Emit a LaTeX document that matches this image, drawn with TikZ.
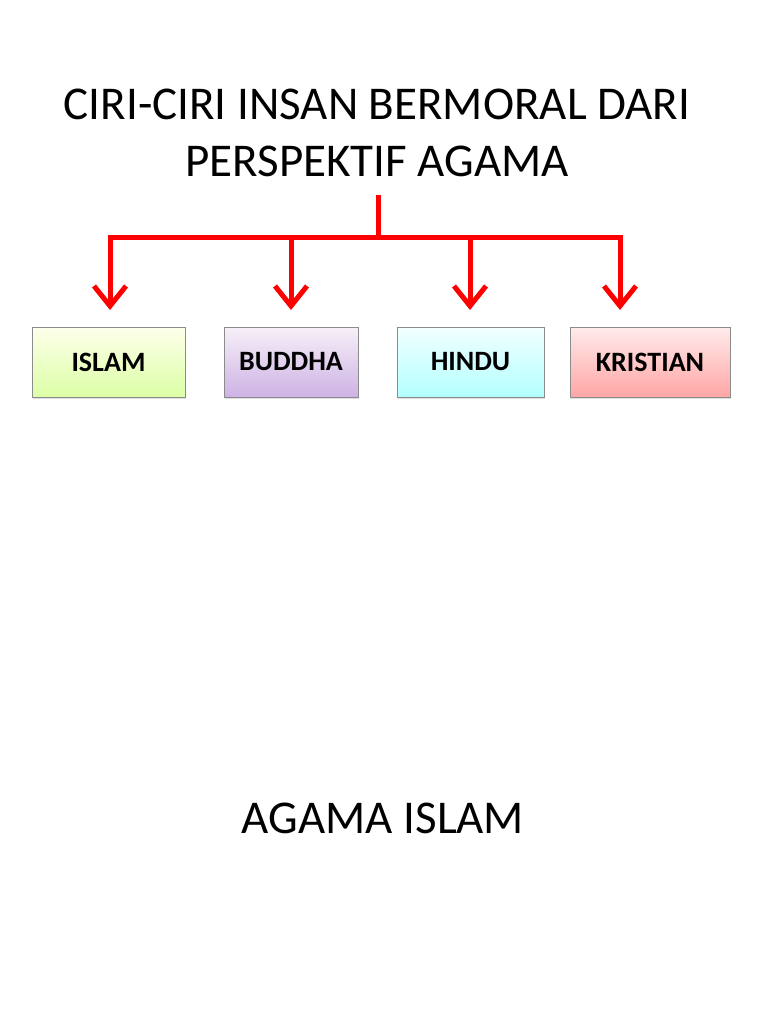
\documentclass[tikz,border=0pt]{standalone}
\usepackage{fontspec}
\setmainfont{Carlito}
\usetikzlibrary{arrows.meta,shadows}
\begin{document}
\begin{tikzpicture}[x=1pt,y=-1pt,
  conn/.style={draw=red,line width=5pt},
  arr/.style={conn,-{Straight Barb[length=20pt,width=32pt]}},
  rel/.style={draw=black!45,line width=0.6pt,minimum height=70pt,inner sep=0pt,font=\bfseries\fontsize{28}{30}\selectfont,drop shadow={shadow xshift=1pt,shadow yshift=-2pt,opacity=0.25}}]
\useasboundingbox[fill=white] (0,0) rectangle (768,1024);
\node[font=\fontsize{47}{57}\selectfont,align=center] (title) at (377,133) {CIRI-CIRI INSAN BERMORAL DARI\\PERSPEKTIF AGAMA};
\node[rel,minimum width=153pt,top color=green!5!yellow!8,bottom color=green!40!yellow!35] (islam) at (108.5,362) {ISLAM};
\node[rel,minimum width=134pt,top color=blue!6!violet!6,bottom color=blue!30!violet!30] (buddha) at (291,362) {BUDDHA};
\node[rel,minimum width=147pt,top color=cyan!5,bottom color=cyan!30] (hindu) at (470.5,362) {HINDU};
\node[rel,minimum width=160pt,top color=red!8,bottom color=red!35] (kristian) at (650,362) {KRISTIAN};
\coordinate (top) at (378,195);
\coordinate (hub) at (378,237);
\draw[conn] (top) -- (hub);
\draw[conn,line cap=rect] (110,237) -- (620,237);
\draw[arr] (110,237) -- (110,310);
\draw[arr] (291,237) -- (291,310);
\draw[arr] (470,237) -- (470,310);
\draw[arr] (620,237) -- (620,310);
\node[font=\fontsize{47}{56}\selectfont] (agama) at (383,818) {AGAMA ISLAM};
\end{tikzpicture}
\end{document}
